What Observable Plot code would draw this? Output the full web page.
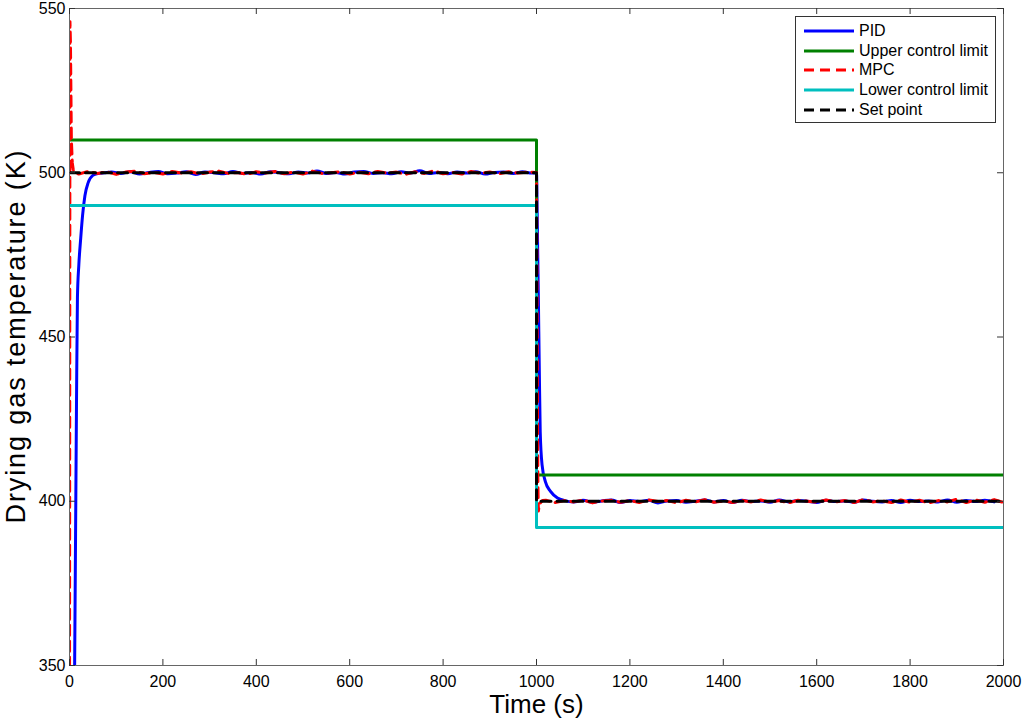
<!DOCTYPE html>
<html>
<head>
<meta charset="utf-8">
<script src="https://cdn.jsdelivr.net/npm/d3@7"></script>
<script src="https://cdn.jsdelivr.net/npm/@observablehq/plot@0.6"></script>
<style>
  body { margin: 0; background: white; font-family: "Liberation Sans", Arial, sans-serif; }
  #wrap { position: relative; width: 1024px; height: 723px; }
  #legend { position: absolute; left: 795px; top: 16px; width: 199px; height: 105px;
            border: 1px solid #333; background: white; box-sizing: content-box; }
  .row { position: absolute; left: 8px; height: 20px; display: flex; align-items: center;
         font-size: 16px; color: #000; white-space: nowrap; }
  .row svg { margin-right: 5px; }
</style>
</head>
<body>
<div id="wrap"><div id="legend"></div></div>
<script>
// ---- data ----
const xTicks = [0, 200, 400, 600, 800, 1000, 1200, 1400, 1600, 1800, 2000];
const yTicks = [350, 400, 450, 500, 550];

const setT = [0, 1000, 1000, 2000];
const setV = [500, 500, 400, 400];
const upperV = [510, 510, 408, 408];
const lowerV = [490, 490, 392, 392];

// PID transients
const pidRiseT = [0, 11, 13, 15, 17, 20, 24, 28, 33, 40, 50, 62, 75];
const pidRiseV = [250, 350, 390, 430, 462, 472, 480, 487, 493, 497, 499.2, 499.8, 500];
const pidDropT = [1000, 1002, 1004, 1006, 1008, 1012, 1019, 1030, 1045, 1060];
const pidDropV = [500, 482, 462, 440, 421, 411, 406, 403, 401, 400.2];
// PID noisy plateaus (sampled every 20 s)
const pidHighStart = 90, pidLowStart = 1080, sampleStep = 20;
const pidHigh = [500.2, 499.8, 500.3, 499.6, 500.1, 500.4, 499.7, 499.9, 500.3, 499.5,
  500.2, 500.0, 499.7, 500.4, 499.8, 500.1, 499.6, 500.3, 500.0, 499.7,
  500.2, 499.9, 500.5, 499.8, 500.1, 499.6, 500.2, 500.4, 499.8, 500.0,
  499.7, 500.3, 499.9, 500.6, 499.8, 500.1, 499.7, 500.2, 499.9, 500.3,
  499.6, 500.1, 500.2, 499.8, 500.3, 499.9];
const pidLow = [399.8, 400.3, 399.7, 400.1, 400.4, 399.6, 400.2, 399.9, 400.3, 399.5,
  400.1, 400.2, 399.7, 400.0, 400.4, 399.8, 400.2, 399.6, 400.3, 399.9,
  400.1, 399.7, 400.4, 399.8, 400.2, 400.0, 399.6, 400.3, 399.9, 400.1,
  399.7, 400.4, 400.0, 399.8, 400.2, 399.6, 400.3, 399.9, 400.1, 399.8,
  400.4, 399.7, 400.2, 399.9, 400.3, 399.8];

// MPC transients
const mpcRiseT = [0, 1, 2, 3, 4, 6, 8, 10];
const mpcRiseV = [330, 546, 540, 525, 510, 503, 501, 500.3];
const mpcDropT = [1000, 1001, 1002, 1003, 1004, 1006, 1009, 1013];
const mpcDropV = [500.1, 470, 430, 405, 397, 399, 399.6, 400.2];
const mpcHighStart = 20, mpcLowStart = 1020;
const mpcHigh = [499.6, 500.4, 499.8, 500.3, 499.5, 500.2, 500.5, 499.7, 500.1, 499.6,
  500.4, 499.9, 500.3, 499.6, 500.2, 500.5, 499.8, 500.1, 499.5, 500.3,
  499.9, 500.4, 499.7, 500.2, 499.6, 500.5, 499.8, 500.0, 500.3, 499.6,
  500.2, 499.7, 500.4, 499.9, 500.2, 499.5, 500.3, 499.8, 500.6, 499.7,
  500.1, 499.6, 500.4, 499.8, 500.2, 499.7, 500.3, 499.9, 500.2];
const mpcLow = [400.3, 399.6, 400.2, 399.8, 400.4, 399.5, 400.1, 400.3, 399.7, 400.2,
  399.6, 400.4, 399.9, 400.2, 399.5, 400.3, 399.8, 400.5, 399.7, 400.1,
  399.6, 400.3, 399.8, 400.4, 399.7, 400.2, 399.5, 400.3, 400.0, 399.7,
  400.4, 399.8, 400.2, 399.6, 400.5, 399.8, 400.1, 399.6, 400.4, 399.7,
  400.3, 399.5, 400.2, 399.8, 400.6, 399.6, 400.4, 399.7, 400.5, 399.6];

// ---- build tables ----
const zip = (T, V) => T.map((t, i) => ({t, v: V[i]}));
const grid = (start, V) => V.map((v, i) => ({t: start + i * sampleStep, v}));

const pid = [
  ...zip(pidRiseT, pidRiseV),
  ...grid(pidHighStart, pidHigh),
  ...zip(pidDropT, pidDropV),
  ...grid(pidLowStart, pidLow)
].sort((a, b) => a.t - b.t);
const mpc = [
  ...zip(mpcRiseT, mpcRiseV),
  ...grid(mpcHighStart, mpcHigh),
  ...zip(mpcDropT, mpcDropV),
  ...grid(mpcLowStart, mpcLow)
].sort((a, b) => a.t - b.t);
const setp = zip(setT, setV);
const upper = zip(setT, upperV);
const lower = zip(setT, lowerV);

const C = {pid: "#0000ff", upper: "#008000", mpc: "#ff0000", lower: "#00bfbf", set: "#000000"};

const tickLenX = 12.8, tickLenY = 1.83;
const yLabel = "Drying gas temperature (K)";

const chart = Plot.plot({
  width: 1024,
  height: 723,
  marginLeft: 69,
  marginRight: 21,
  marginTop: 8,
  marginBottom: 58,
  style: {fontFamily: "'Liberation Sans', Arial, sans-serif", fontSize: "16px", color: "black", background: "white"},
  x: {domain: [0, 2000], axis: null},
  y: {domain: [350, 550], axis: null},
  marks: [
    Plot.line(pid, {x: "t", y: "v", stroke: C.pid, strokeWidth: 3, clip: true, curve: "monotone-x"}),
    Plot.line(upper, {x: "t", y: "v", stroke: C.upper, strokeWidth: 3, clip: true}),
    Plot.line(mpc, {x: "t", y: "v", stroke: C.mpc, strokeWidth: 3, strokeDasharray: "10,6", clip: true}),
    Plot.line(lower, {x: "t", y: "v", stroke: C.lower, strokeWidth: 3, clip: true}),
    Plot.line(setp, {x: "t", y: "v", stroke: C.set, strokeWidth: 3, strokeDasharray: "10,6", clip: true}),
    Plot.frame({stroke: "#666", strokeWidth: 1}),
    Plot.ruleX(xTicks, {x: d => d, y1: 350, y2: 350 + tickLenY, stroke: "#333"}),
    Plot.ruleX(xTicks, {x: d => d, y1: 550, y2: 550 - tickLenY, stroke: "#333"}),
    Plot.ruleY(yTicks, {y: d => d, x1: 0, x2: tickLenX, stroke: "#333"}),
    Plot.ruleY(yTicks, {y: d => d, x1: 2000, x2: 2000 - tickLenX, stroke: "#333"}),
    Plot.text(xTicks, {x: d => d, y: 350, text: d => String(d), dy: 10, lineAnchor: "top", textAnchor: "middle", fontSize: 16, fill: "black"}),
    Plot.text(yTicks, {x: 0, y: d => d, text: d => String(d), dx: -4, lineAnchor: "middle", textAnchor: "end", fontSize: 16, fill: "black"}),
    Plot.text(["Time (s)"], {text: d => d, frameAnchor: "bottom", lineAnchor: "middle", textAnchor: "middle", dy: 39, fontSize: 26, fill: "black"}),
    Plot.text([yLabel], {text: d => d, frameAnchor: "left", lineAnchor: "middle", textAnchor: "middle", rotate: -90, dx: -53, dy: -1, fontSize: 27, fill: "black"})
  ]
});
d3.select(chart).selectAll("text")
  .filter(function() { return this.textContent === yLabel; })
  .style("letter-spacing", "1.9px");
document.getElementById("wrap").prepend(chart);

// ---- legend ----
const legendItems = [
  {label: "PID", color: C.pid, dash: null},
  {label: "Upper control limit", color: C.upper, dash: null},
  {label: "MPC", color: C.mpc, dash: "10,6"},
  {label: "Lower control limit", color: C.lower, dash: null},
  {label: "Set point", color: C.set, dash: "10,6"}
];
const leg = document.getElementById("legend");
legendItems.forEach((it, i) => {
  const row = document.createElement("div");
  row.className = "row";
  row.style.top = (4 + i * 19.7) + "px";
  row.innerHTML = `<svg width="50" height="6"><line x1="0" y1="3" x2="50" y2="3" stroke="${it.color}" stroke-width="3" ${it.dash ? `stroke-dasharray="${it.dash}"` : ""}/></svg><span>${it.label}</span>`;
  leg.appendChild(row);
});
</script>
</body>
</html>
